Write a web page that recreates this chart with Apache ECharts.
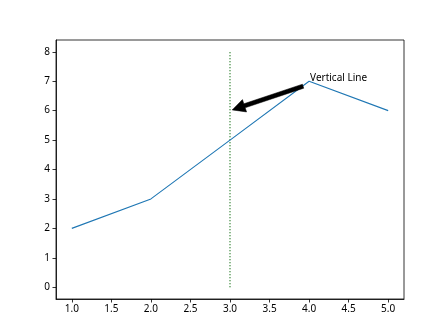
<!DOCTYPE html>
<html><head><meta charset="utf-8">
<script src="https://cdn.jsdelivr.net/npm/echarts@6/dist/echarts.min.js"></script>
<style>html,body{margin:0;padding:0;background:#fff}#c{width:448px;height:336px}</style>
</head><body><div id="c"></div>
<script>
const xValues = [1, 2, 3, 4, 5];
const yValues = [2, 3, 5, 7, 6];
const xTicks = [1.0, 1.5, 2.0, 2.5, 3.0, 3.5, 4.0, 4.5, 5.0];
const yTicks = [0, 1, 2, 3, 4, 5, 6, 7, 8];
const vLineX = 3;
const vLineY = [0, 8];
const annText = 'Vertical Line';
const annXY = [3, 6];
const annTextXY = [4, 7];

const chart = echarts.init(document.getElementById('c'));
const font = 'Noto Sans';
chart.setOption({
  animation: false,
  grid: {left: 56, right: 44, top: 40, bottom: 37, containLabel: false},
  xAxis: {
    type: 'value', min: 0.8, max: 5.2,
    axisLine: {show: true, onZero: false, lineStyle: {color: '#000', width: 0.8}},
    axisTick: {show: true, length: 3.5, customValues: xTicks, lineStyle: {color: '#000', width: 0.8}},
    axisLabel: {customValues: xTicks, color: '#000', fontFamily: font, fontSize: 10, margin: 5,
      formatter: v => v.toFixed(1)},
    splitLine: {show: false}
  },
  yAxis: {
    type: 'value', min: -0.4, max: 8.4,
    axisLine: {show: true, onZero: false, lineStyle: {color: '#000', width: 0.8}},
    axisTick: {show: true, length: 3.5, customValues: yTicks, lineStyle: {color: '#000', width: 0.8}},
    axisLabel: {customValues: yTicks, color: '#000', fontFamily: font, fontSize: 10, margin: 6,
      formatter: v => String(v)},
    splitLine: {show: false}
  },
  series: [
    {type: 'line', data: xValues.map((x, i) => [x, yValues[i]]), symbol: 'none',
     lineStyle: {color: '#1f77b4', width: 1.1}, z: 3},
    {type: 'line', data: vLineY.map(y => [vLineX, y]), symbol: 'none',
     lineStyle: {color: '#006400', width: 1.2, type: [1, 2]}, z: 2}
  ]
});

const tl = chart.convertToPixel({gridIndex: 0}, [0.8, 8.4]);
const br = chart.convertToPixel({gridIndex: 0}, [5.2, -0.4]);

const tip0 = chart.convertToPixel({gridIndex: 0}, annXY);
const txt = chart.convertToPixel({gridIndex: 0}, annTextXY);
const tail = [txt[0] - 6, txt[1] + 5];
const dx0 = tip0[0] - tail[0], dy0 = tip0[1] - tail[1];
const tip = [tip0[0] - dx0 * 0.03, tip0[1] - dy0 * 0.03];
const dx = tip[0] - tail[0], dy = tip[1] - tail[1];
const L = Math.hypot(dx, dy);
const ux = dx / L, uy = dy / L, nx = -uy, ny = ux;
const hl = 13, hw = 6.5, sw = 2.1;
const bx = tip[0] - ux * hl, by = tip[1] - uy * hl;
const pts = [
  [tail[0] + nx * sw, tail[1] + ny * sw],
  [bx + nx * sw, by + ny * sw],
  [bx + nx * hw, by + ny * hw],
  tip,
  [bx - nx * hw, by - ny * hw],
  [bx - nx * sw, by - ny * sw],
  [tail[0] - nx * sw, tail[1] - ny * sw]
];

chart.setOption({
  graphic: [
    {type: 'rect', shape: {x: tl[0], y: tl[1], width: br[0] - tl[0], height: br[1] - tl[1]},
     style: {fill: 'none', stroke: '#000', lineWidth: 0.8}, z: 10, silent: true},
    {type: 'polygon', shape: {points: pts}, style: {fill: '#000', stroke: '#000', lineWidth: 0.5}, z: 11},
    {type: 'text', x: txt[0] + 1, y: txt[1] + 1.5, style: {text: annText, font: '10px "Noto Sans"',
      fill: '#000', textAlign: 'left', textVerticalAlign: 'bottom'}, z: 12}
  ]
});
</script></body></html>
